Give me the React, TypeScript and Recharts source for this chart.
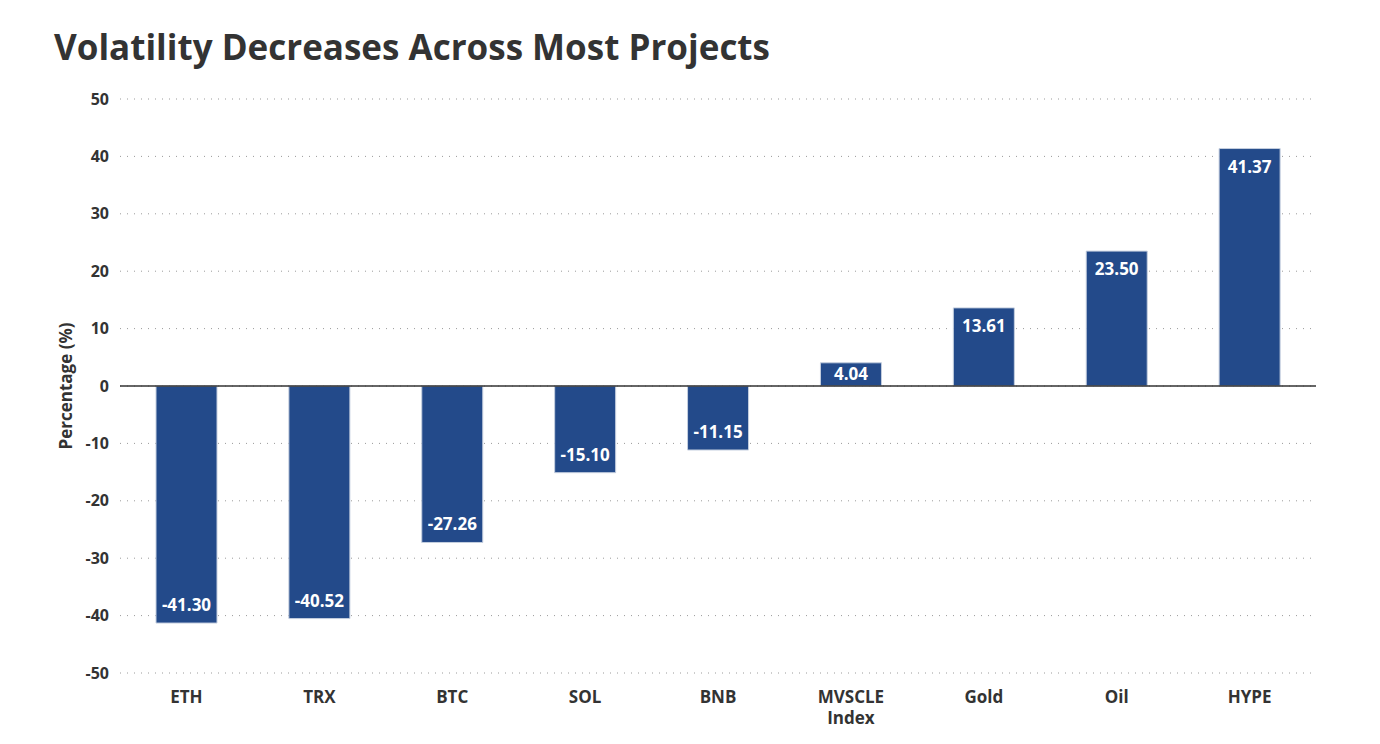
import React from "react";
import { BarChart, Bar, XAxis, YAxis, CartesianGrid, ReferenceLine, LabelList } from "recharts";

const categories = ["ETH", "TRX", "BTC", "SOL", "BNB", "MVSCLE Index", "Gold", "Oil", "HYPE"];
const values = [-41.3, -40.52, -27.26, -15.1, -11.15, 4.04, 13.61, 23.5, 41.37];
const yTicks = [-50, -40, -30, -20, -10, 0, 10, 20, 30, 40, 50];

const data = categories.map((c, i) => ({ name: c, value: values[i] }));

const FONT = "'Open Sans', sans-serif";

const XTick = (props: any) => {
  const { x, y, payload } = props;
  const words = String(payload.value).split(" ");
  return (
    <g transform={`translate(${x},${y})`}>
      {words.map((w: string, i: number) => (
        <text key={i} x={0} y={0} dy={22 + i * 21} textAnchor="middle" fill="#333" fontFamily={FONT} fontWeight={700} fontSize={17}>
          {w}
        </text>
      ))}
    </g>
  );
};

const ValueLabel = (props: any) => {
  const { x, y, width, height, value } = props;
  const top = Math.min(y, y + height);
  const bottom = Math.max(y, y + height);
  const h = bottom - top;
  const off = Math.min(18, h / 2);
  const ty = value >= 0 ? top + off : bottom - off;
  return (
    <text x={x + width / 2} y={ty} dy={6} textAnchor="middle" fill="#fff" fontFamily={FONT} fontWeight={700} fontSize={17}>
      {Number(value).toFixed(2)}
    </text>
  );
};

export default function App() {
  return (
    <div style={{ position: "relative", width: 1364, height: 728, background: "#fff", fontFamily: FONT }}>
      <div style={{ position: "absolute", left: 46, top: 15, fontSize: 35, fontWeight: 700, color: "#333", whiteSpace: "nowrap" }}>
        Volatility Decreases Across Most Projects
      </div>
      <BarChart width={1364} height={728} data={data} margin={{ top: 91, right: 56, bottom: 23, left: 52 }}>
        <CartesianGrid vertical={false} stroke="#9a9a9a" strokeDasharray="1 6" />
        <XAxis dataKey="name" axisLine={false} tickLine={false} tick={<XTick />} interval={0} height={40} />
        <YAxis
          domain={[-50, 50]}
          ticks={yTicks}
          axisLine={false}
          tickLine={false}
          width={60}
          tick={{ fill: "#333", fontFamily: FONT, fontWeight: 700, fontSize: 16 }}
          tickMargin={5}
          label={{ value: "Percentage (%)", angle: -90, position: "insideLeft", offset: 6, style: { textAnchor: "middle", fill: "#333", fontFamily: FONT, fontWeight: 700, fontSize: 17 } }}
        />
        <ReferenceLine y={0} stroke="#333" strokeWidth={1.5} />
        <Bar dataKey="value" fill="#234a8a" stroke="#c5cfdf" strokeWidth={1} barSize={61} isAnimationActive={false}>
          <LabelList dataKey="value" content={<ValueLabel />} />
        </Bar>
      </BarChart>
    </div>
  );
}
